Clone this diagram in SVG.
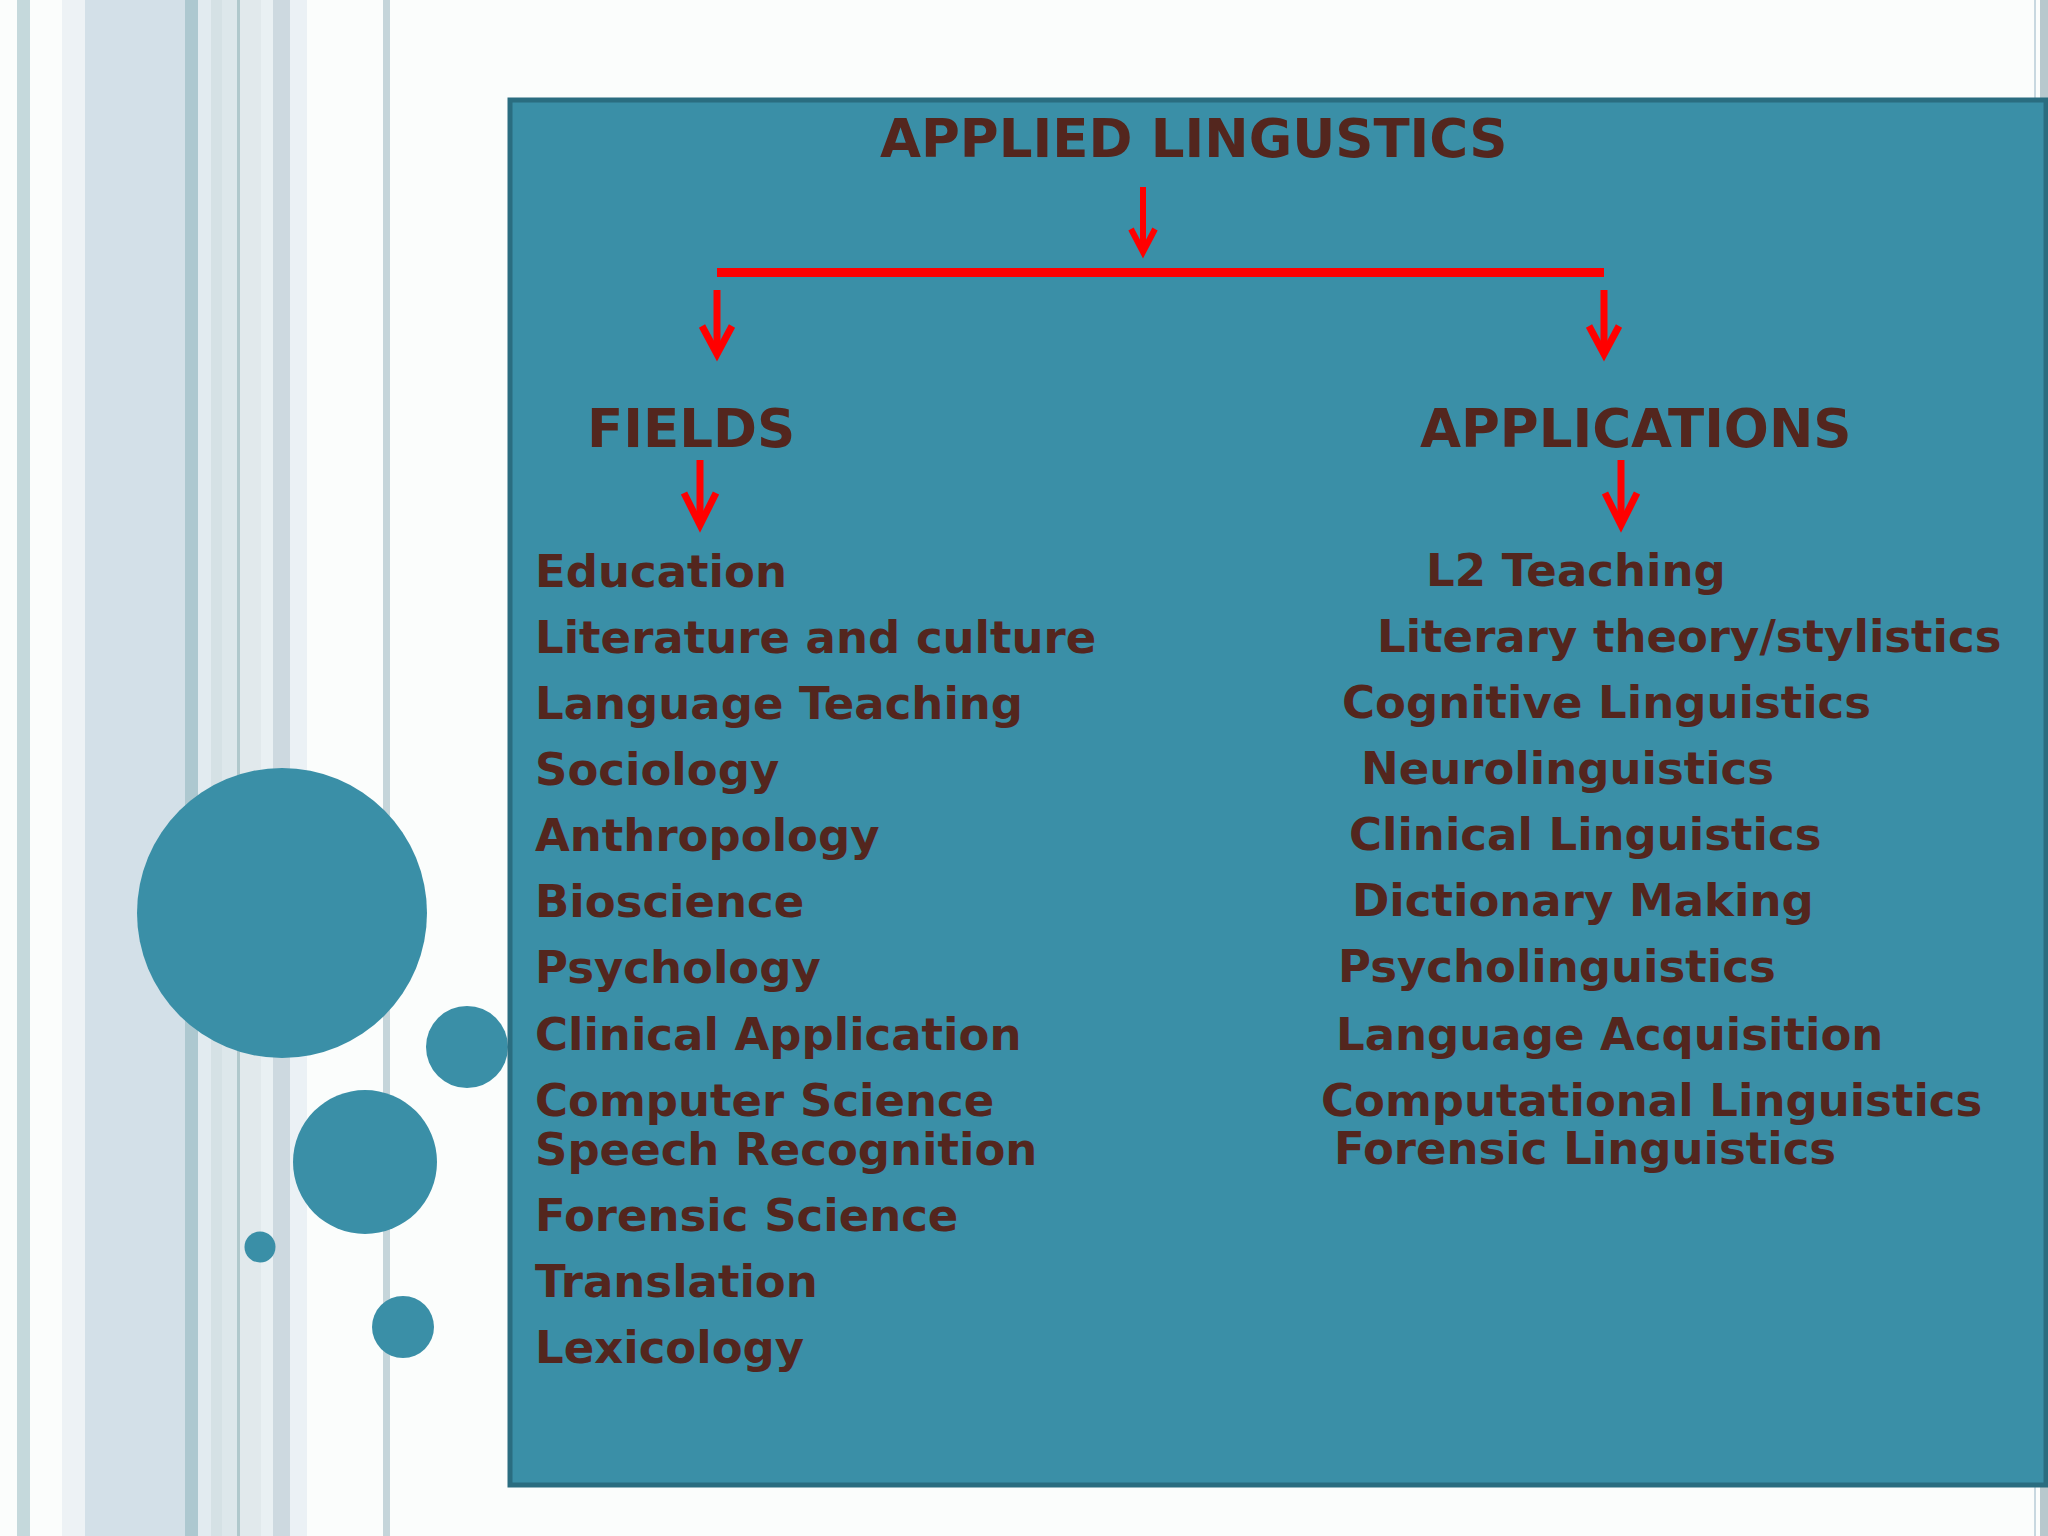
<svg xmlns="http://www.w3.org/2000/svg" width="2048" height="1536" viewBox="0 0 2048 1536">
<defs>
<style>
.t{font-family:"DejaVu Sans","Verdana",sans-serif;font-weight:bold;fill:#53261e;}
.h{font-size:53px;}
.i{font-size:45px;}
.arr{fill:none;stroke:#ff0000;stroke-linecap:butt;stroke-linejoin:miter;}
</style>
</defs>
<rect x="0" y="0" width="2048" height="1536" fill="#fbfdfc"/>
<g id="stripes">
<rect x="17" y="0" width="13" height="1536" fill="#c5d9dc"/>
<rect x="62" y="0" width="23" height="1536" fill="#edf2f5"/>
<rect x="85" y="0" width="100" height="1536" fill="#d3e0e8"/>
<rect x="185" y="0" width="13" height="1536" fill="#adc8d0"/>
<rect x="198" y="0" width="13" height="1536" fill="#e2ebf0"/>
<rect x="211" y="0" width="11" height="1536" fill="#d5e1e5"/>
<rect x="222" y="0" width="15" height="1536" fill="#dde7eb"/>
<rect x="237" y="0" width="3" height="1536" fill="#b0c8cc"/>
<rect x="240" y="0" width="21" height="1536" fill="#e1e9ec"/>
<rect x="261" y="0" width="12" height="1536" fill="#e9f0f3"/>
<rect x="273" y="0" width="17" height="1536" fill="#cdd9e0"/>
<rect x="290" y="0" width="17" height="1536" fill="#ebf1f5"/>
<rect x="383" y="0" width="7" height="1536" fill="#c5d5da"/>
<rect x="2034" y="0" width="2" height="1536" fill="#c8d8e0"/>
<rect x="2040" y="0" width="8" height="1536" fill="#b8c8cd"/>
</g>
<g id="circles" fill="#3a8fa7">
<circle cx="282" cy="913" r="145"/>
<circle cx="467" cy="1047" r="41"/>
<circle cx="365" cy="1162" r="72"/>
<circle cx="260" cy="1247" r="15.5"/>
<circle cx="403" cy="1327" r="31"/>
</g>
<g id="panel">
<rect x="510" y="100" width="1536" height="1385" fill="#3a8fa7" stroke="#2a6d80" stroke-width="5"/>
</g>
<g id="node-title"><text class="t h" x="880" y="157">APPLIED LINGUSTICS</text></g>
<g id="node-fields"><text class="t h" x="587" y="447">FIELDS</text></g>
<g id="node-applications"><text class="t h" x="1420" y="447">APPLICATIONS</text></g>
<g id="connectors">
<line class="arr" x1="1143" y1="187" x2="1143" y2="252" stroke-width="6"/>
<polyline class="arr" points="1131,229 1143,252 1155,229" stroke-width="6"/>
<line x1="717" y1="272.5" x2="1604" y2="272.5" stroke="#ff0000" stroke-width="9"/>
<line class="arr" x1="717" y1="290" x2="717" y2="354" stroke-width="7"/>
<polyline class="arr" points="702,326 717,354 732,326" stroke-width="7"/>
<line class="arr" x1="1604" y1="290" x2="1604" y2="354" stroke-width="7"/>
<polyline class="arr" points="1589,326 1604,354 1619,326" stroke-width="7"/>
<line class="arr" x1="700" y1="460" x2="700" y2="525" stroke-width="7"/>
<polyline class="arr" points="684,493 700,525 716,493" stroke-width="7"/>
<line class="arr" x1="1621" y1="460" x2="1621" y2="525" stroke-width="7"/>
<polyline class="arr" points="1605,493 1621,525 1637,493" stroke-width="7"/>
</g>
<g id="node-fields-list" class="t i">
<text x="535" y="587">Education</text>
<text x="535" y="653">Literature and culture</text>
<text x="535" y="719">Language Teaching</text>
<text x="535" y="785">Sociology</text>
<text x="535" y="851">Anthropology</text>
<text x="535" y="917">Bioscience</text>
<text x="535" y="983">Psychology</text>
<text x="535" y="1050">Clinical Application</text>
<text x="535" y="1116">Computer Science</text>
<text x="535" y="1165">Speech Recognition</text>
<text x="535" y="1231">Forensic Science</text>
<text x="535" y="1297">Translation</text>
<text x="535" y="1363">Lexicology</text>
</g>
<g id="node-applications-list" class="t i">
<text x="1426" y="586">L2 Teaching</text>
<text x="1377" y="652">Literary theory/stylistics</text>
<text x="1342" y="718">Cognitive Linguistics</text>
<text x="1361" y="784">Neurolinguistics</text>
<text x="1349" y="850">Clinical Linguistics</text>
<text x="1352" y="916">Dictionary Making</text>
<text x="1338" y="982">Psycholinguistics</text>
<text x="1336" y="1050">Language Acquisition</text>
<text x="1321" y="1116">Computational Linguistics</text>
<text x="1334" y="1164">Forensic Linguistics</text>
</g>
</svg>
